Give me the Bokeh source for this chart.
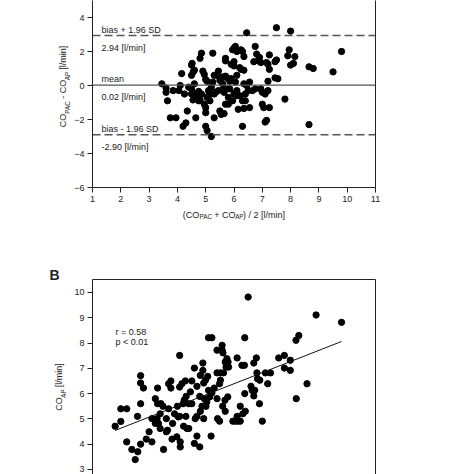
import math
from bokeh.plotting import figure
from bokeh.models import Range1d, LinearAxis, FixedTicker, Span, Label, Title
from bokeh.layouts import column
from bokeh.embed import file_html
from bokeh.resources import INLINE

# ---------------- Panel A: Bland-Altman ----------------
a_mean = [3.45, 3.6, 3.6, 3.65, 3.75, 3.95, 3.85, 4.05, 4.15, 4.1, 4.2, 4.3, 4.25, 4.35,
          4.5, 4.5, 4.5, 4.5, 4.55, 4.6, 4.6, 4.65, 4.65, 4.7, 4.75, 4.8, 4.85, 4.75, 4.8,
          4.9, 4.95, 4.95, 5.0, 5.0, 5.0, 5.05, 5.05, 5.1, 5.05, 5.1, 5.2, 5.15, 5.25, 5.25,
          5.3, 5.3, 5.3, 5.4, 5.45, 5.45, 5.5, 5.55, 5.6, 5.6, 5.65, 5.65, 5.7, 5.7, 5.7,
          5.7, 5.75, 5.8, 5.8, 5.85, 5.9, 5.85, 5.95, 5.95, 6.0, 6.05, 6.0, 6.0, 6.0, 6.05,
          6.1, 6.1, 6.1, 6.1, 6.15, 6.2, 6.25, 6.3, 6.25, 6.3, 6.35, 6.35, 6.35, 6.35, 6.4,
          6.4, 6.3, 6.45, 6.45, 6.5, 6.55, 6.65, 6.7, 6.75, 6.8, 6.75, 6.85, 6.9, 6.95, 7.0,
          6.95, 7.0, 7.05, 7.1, 7.1, 7.15, 7.15, 7.2, 7.2, 7.2, 7.25, 7.25, 7.25, 7.45, 7.5,
          7.5, 7.45, 7.55, 7.8, 7.9, 7.95, 8.0, 8.0, 8.1, 8.15, 8.65, 8.65, 8.8, 9.5, 9.8,
          4.52, 4.56, 4.58, 5.35, 5.5, 5.2, 4.4, 5.9, 6.2, 5.6, 4.85, 6.55, 5.0, 5.75]
a_diff = [0.1, -0.15, -0.4, -0.9, -1.9, -1.9, -0.3, -0.3, 0.7, 0.0, -2.4, -2.2, -0.5, -1.5,
          1.2, 0.6, -0.2, -0.5, -0.85, 0.9, 0.1, -1.9, -0.65, -0.75, -0.9, 1.6, 1.9, -0.35, -0.85,
          0.85, 0.65, -1.1, -1.3, -1.6, -2.4, -2.65, 0.25, -0.3, -0.7, -0.6, -3.0, -0.9, 1.9, 0.2,
          -1.9, -0.5, 0.6, 0.6, 0.85, -0.3, -1.5, -1.7, 0.5, -0.25, -1.65, -0.4, 1.45, 1.6, 0.55,
          -1.1, 0.45, -0.7, -1.1, 0.25, 1.25, -0.2, -0.9, 2.1, 2.2, 2.3, 1.4, 1.15, -0.5, 0.2,
          2.0, 0.6, -0.3, -0.6, -1.4, 1.05, 2.1, 2.0, 0.95, -0.9, -1.35, 1.7, 0.9, 0.1, -0.5,
          -0.9, -2.4, 3.1, 0.0, -0.3, -1.3, -0.3, 1.4, 2.3, 1.85, -0.2, 1.45, 1.65, -0.2, -0.4,
          1.35, -1.1, -1.3, -0.5, -2.15, -2.05, 1.35, 0.25, 1.25, -0.3, -1.3, 0.95, 1.8, 1.4, 1.5,
          3.4, 0.45, 0.4, -0.8, 1.75, 2.1, 3.2, 1.2, 1.3, 1.7, 1.1, -2.3, 1.0, 0.8, 2.0,
          1.3, 0.8, -0.45, -0.4, 0.3, -0.1, -0.1, 0.4, -0.6, 0.1, -0.5, 0.2, 0.35, -0.2]
bias = 0.02
upper_loa = 2.94
lower_loa = -2.90
a_xticks = [1, 2, 3, 4, 5, 6, 7, 8, 9, 10, 11]
a_yticks = [-6, -4, -2, 0, 2, 4]

# ---------------- Panel B: correlation ----------------
b_pac = [2.8, 3.0, 3.0, 3.21, 3.21, 3.39, 3.51, 3.6, 3.59, 3.7, 3.7, 3.7, 3.7, 3.8, 3.9,
         4.0, 4.1, 4.1, 4.22, 4.22, 4.3, 4.3, 4.28, 4.33, 4.39, 4.39, 4.42, 4.49, 4.51, 4.61,
         4.61, 4.65, 4.69, 4.69, 4.77, 4.77, 4.81, 4.83, 4.9, 4.98, 5.0, 5.03, 5.08, 5.08,
         5.08, 5.1, 5.1, 5.16, 5.2, 5.22, 5.24, 5.28, 5.3, 5.31, 5.34, 5.4, 5.4, 5.46, 5.51,
         5.51, 5.6, 5.6, 5.63, 5.69, 5.69, 5.69, 5.79, 5.79, 5.81, 5.81, 5.87, 5.9, 5.9, 5.93,
         5.93, 5.95, 5.99, 6.01, 6.04, 6.07, 6.1, 6.1, 6.14, 6.19, 6.22, 6.22, 6.3, 6.4, 6.4,
         6.4, 6.42, 6.49, 6.49, 6.52, 6.52, 6.58, 6.58, 6.61, 6.6, 6.63, 6.68, 6.69, 6.69,
         6.72, 6.75, 6.78, 6.81, 6.79, 6.96, 7.05, 7.11, 7.11, 7.14, 7.22, 7.22, 7.28, 7.31,
         7.37, 7.38, 7.38, 7.4, 7.5, 7.6, 7.64, 7.7, 7.7, 7.73, 7.79, 7.81, 7.83, 7.9, 7.91,
         8.0, 8.11, 8.19, 8.29, 8.58, 8.78, 8.78, 8.99, 8.99, 9.2, 9.19, 9.29, 9.58, 9.9, 10.8]
b_ap = [4.71, 4.9, 5.4, 5.4, 4.09, 3.79, 3.39, 3.7, 5.1, 6.71, 6.42, 5.6, 4.0, 6.22, 4.2,
        4.49, 5.01, 4.09, 4.82, 5.8, 6.22, 5.6, 5.01, 4.82, 5.2, 4.62, 5.6, 5.5, 3.79, 4.49,
        5.01, 4.55, 5.4, 6.39, 6.5, 6.22, 4.2, 4.82, 5.2, 4.29, 5.5, 5.08, 7.51, 6.26,
        5.1, 4.09, 3.89, 6.39, 5.6, 4.71, 5.74, 6.5, 5.1, 5.89, 4.62, 5.6, 4.62, 6.07, 6.5,
        5.6, 4.03, 7.01, 5.01, 6.29, 5.1, 4.32, 3.89, 5.89, 6.72, 5.3, 5.5, 7.21, 6.92, 6.42,
        5.01, 5.8, 6.53, 5.5, 5.67, 6.68, 8.21, 6.13, 5.87, 4.32, 8.21, 6.03, 6.22, 7.72, 6.82,
        5.8, 5.01, 4.91, 6.39, 6.53, 6.82, 7.91, 7.72, 7.61, 5.5, 6.82, 5.74, 5.3, 7.25,
        7.05, 7.38, 5.87, 7.05, 7.25, 4.91, 4.91, 7.41, 5.1, 4.91, 5.5, 4.91, 7.12, 5.2,
        7.12, 8.21, 6.0, 5.3, 9.82, 6.29, 6.13, 7.21, 5.91, 6.13, 7.41, 6.82, 6.59, 5.6, 6.53,
        4.91, 6.82, 6.39, 6.82, 7.41, 7.51, 7.01, 6.92, 7.32, 5.8, 8.11, 8.3, 6.39, 9.11, 8.82]
reg_slope = 0.44
reg_intercept = 3.31
r_value = 0.58
p_label = "p < 0.01"
b_yticks = [3, 4, 5, 6, 7, 8, 9, 10]

# ---------------- styling ----------------
FONT = "Liberation Sans"
INK = "#222222"
NB = "\u00a0"
FRAME_W = 283


def style_axis(ax, ticks):
    ax.ticker = FixedTicker(ticks=ticks)
    ax.axis_line_color = INK
    ax.axis_line_width = 1
    ax.major_tick_line_color = INK
    ax.major_tick_out = 5
    ax.major_tick_in = 0
    ax.minor_tick_out = 0
    ax.minor_tick_in = 0
    ax.major_label_text_font = FONT
    ax.major_label_text_font_size = "9px"
    ax.major_label_text_color = INK
    ax.major_label_standoff = 3


def bare_axis(where, p):
    ax = LinearAxis(ticker=FixedTicker(ticks=[]), axis_line_color=INK, axis_line_width=1,
                    major_tick_out=0, major_tick_in=0, minor_tick_out=0, minor_tick_in=0,
                    major_label_text_font_size="0px")
    p.add_layout(ax, where)


def title_axis(p, where, main, sub_pos, sub_txt, sub_standoff, label_standoff, vertical):
    """Axis title with subscripts: main text as the axis label, subscripts as tick labels."""
    ax = LinearAxis(ticker=FixedTicker(ticks=sub_pos),
                    major_label_overrides=dict(zip(sub_pos, sub_txt)),
                    axis_line_color=None, major_tick_line_color=None, minor_tick_line_color=None,
                    major_tick_out=0, major_tick_in=0, minor_tick_out=0, minor_tick_in=0,
                    major_label_text_font=FONT, major_label_text_font_size="6.3px",
                    major_label_text_color=INK, major_label_standoff=sub_standoff,
                    axis_label=main, axis_label_text_font=FONT, axis_label_text_font_size="9px",
                    axis_label_text_font_style="normal", axis_label_text_color=INK,
                    axis_label_standoff=label_standoff)
    if vertical:
        ax.major_label_orientation = "parallel"
    p.add_layout(ax, where)


def label(p, text, x, y, x_off, y_off, size="9px"):
    p.add_layout(Label(x=x, y=y, x_offset=x_off, y_offset=y_off, text=text, text_font=FONT,
                       text_font_size=size, text_color=INK, text_align="left",
                       text_baseline="alphabetic"))


# ---------------- Panel A figure ----------------
pA = figure(frame_width=FRAME_W, frame_height=187, x_range=Range1d(1, 11), y_range=Range1d(-6, 5),
            output_backend="svg", toolbar_location=None, min_border_left=92, min_border_right=12,
            min_border_top=0, min_border_bottom=45)
pA.outline_line_color = None
pA.xgrid.visible = False
pA.ygrid.visible = False
style_axis(pA.xaxis[0], a_xticks)
style_axis(pA.yaxis[0], a_yticks)
bare_axis("right", pA)

pA.add_layout(Span(location=bias, dimension="width", line_color="#555555", line_width=1.4))
for loc in (upper_loa, lower_loa):
    pA.add_layout(Span(location=loc, dimension="width", line_color="#555555", line_width=1.4,
                       line_dash="8 4"))
pA.scatter(a_mean, a_diff, size=6.3, color="black")

label(pA, "bias + 1.96 SD", 1, upper_loa, 9, 6)
label(pA, f"{upper_loa:.2f} [l/min]", 1, upper_loa, 9, -12)
label(pA, "mean", 1, bias, 9, 6)
label(pA, f"{bias:.2f} [l/min]", 1, bias, 9, -12)
label(pA, "bias - 1.96 SD", 1, lower_loa, 9, 6)
label(pA, f"{lower_loa:.2f} [l/min]", 1, lower_loa, 9, -12)

title_axis(pA, "below", "(CO" + NB * 5 + " + CO" + NB * 3 + ") / 2 [l/min]",
           [5.0, 6.19], ["PAC", "AP"], 8, -13, False)
title_axis(pA, "left", NB * 7 + "CO" + NB * 5 + " - CO" + NB * 3 + "  [l/min]",
           [-1.29, 0.56], ["PAC", "AP"], 0, -6, True)

# ---------------- Panel B figure ----------------
pB = figure(frame_width=FRAME_W, frame_height=195, x_range=Range1d(2, 12), y_range=Range1d(2.80, 10.514),
            output_backend="svg", toolbar_location=None, x_axis_location=None,
            min_border_left=92, min_border_right=12, min_border_top=47, min_border_bottom=0)
pB.outline_line_color = None
pB.xgrid.visible = False
pB.ygrid.visible = False
style_axis(pB.yaxis[0], b_yticks)
bare_axis("above", pB)
bare_axis("right", pB)
pB.title = Title(text="B", align="left", offset=-43, standoff=-6, text_font=FONT,
                 text_font_size="14px", text_font_style="bold", text_color=INK)

pB.scatter(b_pac, b_ap, size=6.3, color="black")
x0, x1 = min(b_pac), max(b_pac)
pB.line([x0, x1], [reg_intercept + reg_slope * x0, reg_intercept + reg_slope * x1],
        line_color="#111111", line_width=1)

label(pB, f"r = {r_value:.2f}", 2, 10.514, 23, -52)
label(pB, p_label, 2, 10.514, 23, -62)
title_axis(pB, "left", "CO" + NB * 3 + "  [l/min]" + NB * 7, [6.006], ["AP"], 4, -6, True)

layout = column(pA, pB)
open("out.html", "w").write(file_html(layout, INLINE))
